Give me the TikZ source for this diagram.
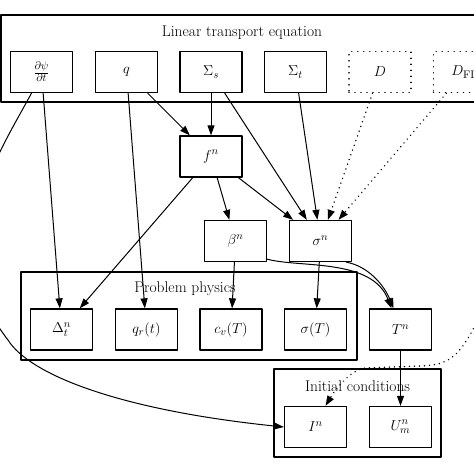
\documentclass[tikz,border=0pt]{standalone}
\usepackage{amsmath}
\usepackage{amsfonts}
\usepackage{tikz}
\usetikzlibrary{arrows.meta}

\begin{document}
\begin{tikzpicture}[line cap=round,line join=round,>={Triangle[length=10pt,width=7pt]},x=1pt,y=-1pt,
  every node/.style={font=\fontsize{15.5}{18}\selectfont},
  var/.style={draw,line width=1.3pt,minimum width=62pt,minimum height=41pt,inner sep=0pt},
  hidvar/.style={var,dash pattern=on 0.01pt off 6pt,line width=1.7pt},
  group/.style={draw,line width=1.3pt},
  edge/.style={->,line width=1pt},
  hidedge/.style={edge,dash pattern=on 0.01pt off 5pt,line width=1.6pt}]
\clip (0,0) rectangle (474,474);
\useasboundingbox (0,0) rectangle (474,474);
% groups
\draw[group] (1,15) rectangle (490,102);
\node (lte) at (242,33) {Linear transport equation};
\draw[group] (21,272) rectangle (357,360);
\node (pp) at (185,289) {Problem physics};
\draw[group] (274,369) rectangle (441,457);
\node (ic) at (357.5,386) {Initial conditions};
% transport equation
\node[var] (dpsi) at (41.5,72) {$\frac{\partial\psi}{\partial t}$};
\node[var] (q) at (126.5,72) {$q$};
\node[var] (Ss) at (211,72) {$\Sigma_s$};
\node[var] (St) at (295.5,72) {$\Sigma_t$};
\node[hidvar] (D) at (380,72) {$D$};
\node[hidvar] (DFL) at (464.5,72) {$D_{\mathrm{FL}}$};
% intermediate
\node[var] (f) at (211,156.5) {$f^n$};
\node[var] (beta) at (235.5,241) {$\beta^n$};
\node[var] (sig) at (320.5,241) {$\sigma^n$};
% physics
\node[var] (Dt) at (61.5,329.5) {$\Delta_t^n$};
\node[var] (qr) at (146.5,329.5) {$q_r(t)$};
\node[var] (cv) at (231,329.5) {$c_v(T)$};
\node[var] (sT) at (315.5,329.5) {$\sigma(T)$};
\node[var] (T) at (400.5,329.5) {$T^n$};
% initial conditions
\node[var] (I) at (315.5,427) {$I^n$};
\node[var] (U) at (400.5,427) {$U_m^n$};
% edges
\draw[edge] (dpsi) -- (Dt);
\draw[edge] ([xshift=-10pt]dpsi.south) .. controls (10,133) and (-20,180) .. (-25,230) .. controls (-28,280) and (-15,310) .. (8,340) .. controls (30,375) and (120,410) .. (I.west);
\draw[edge] (q) -- (qr);
\draw[edge] (q) -- (f);
\draw[edge] (Ss) -- (f);
\draw[edge] (Ss) -- (sig);
\draw[edge] (St) -- (sig);
\draw[hidedge] (D) -- (sig);
\draw[hidedge] (DFL) -- (sig);
\draw[hidedge] (DFL.south east) .. controls (520,200) and (490,300) .. (470,335) .. controls (455,360) and (445,365) .. (420,366) -- (365,368) .. controls (350,370) and (335,390) .. ([xshift=10pt]I.north);
\draw[edge] (f) -- (Dt);
\draw[edge] (f) -- (beta);
\draw[edge] (f) -- (sig);
\draw[edge] (beta) -- (cv);
\draw[edge] ([yshift=3pt]beta.south east) .. controls (300,268) and (372,258) .. ([xshift=-9pt]T.north);
\draw[edge] (sig) -- (sT);
\draw[edge] ([xshift=-6pt]sig.south east) .. controls (368,266) and (384,285) .. ([xshift=-7pt]T.north);
\draw[edge] (T) -- (U);
\end{tikzpicture}
\end{document}
